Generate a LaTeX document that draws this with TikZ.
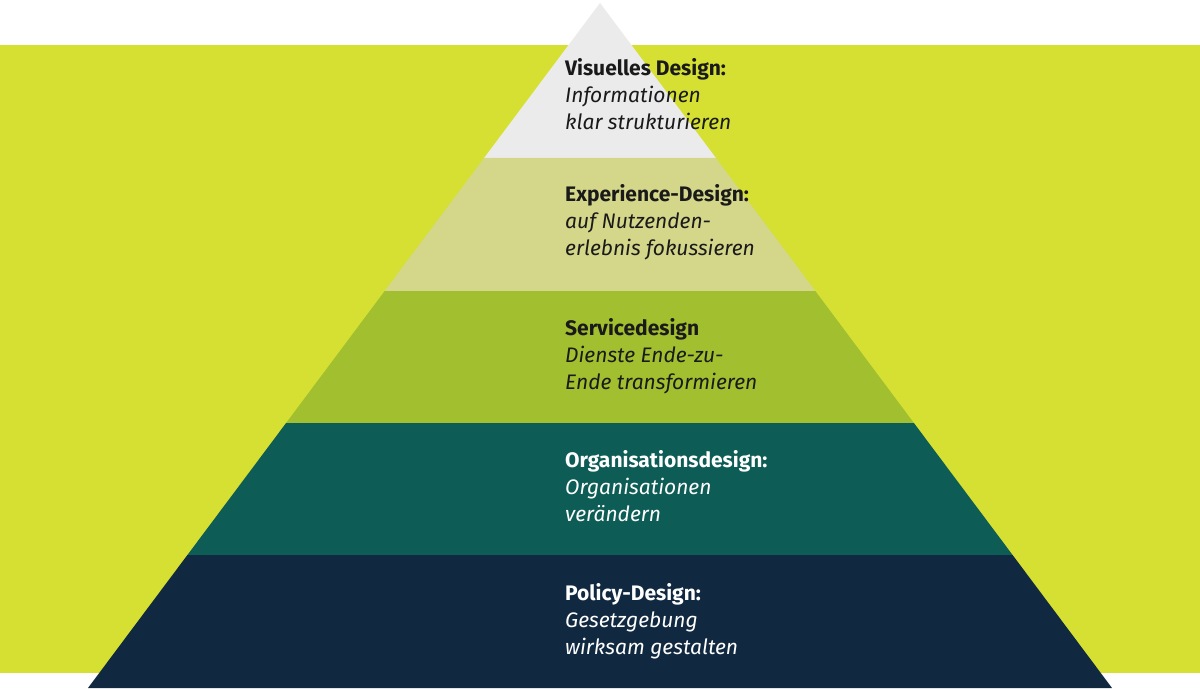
\documentclass[tikz,border=0pt]{standalone}
\usepackage{fontspec}
\setmainfont{Fira Sans}
\begin{document}
\begin{tikzpicture}[x=1pt,y=-1pt,
  lbl/.style={anchor=north west,align=left,font=\fontsize{21}{27}\selectfont,inner sep=0pt}]
\definecolor{bg}{HTML}{D5E032}
\definecolor{c1}{HTML}{EBEBEB}
\definecolor{c2}{HTML}{D4D68A}
\definecolor{c3}{HTML}{A1BF2F}
\definecolor{c4}{HTML}{0D5C55}
\definecolor{c5}{HTML}{102940}
\definecolor{dk}{HTML}{1A1A1A}
\useasboundingbox (0,0) rectangle (1200,690);
\fill[white] (0,0) rectangle (1200,690);
\fill[bg] (0,45) rectangle (1200,673);
\fill[c1] (600,3) -- (715.9,158) -- (484.1,158) -- cycle;
\fill[c2] (484.1,158) -- (715.9,158) -- (815.3,291) -- (384.7,291) -- cycle;
\fill[c3] (384.7,291) -- (815.3,291) -- (913.9,423) -- (286.1,423) -- cycle;
\fill[c4] (286.1,423) -- (913.9,423) -- (1012.6,555) -- (187.4,555) -- cycle;
\fill[c5] (187.4,555) -- (1012.6,555) -- (1112,688) -- (88,688) -- cycle;
\node[lbl,text=dk] (t1) at (565,58) {\textbf{Visuelles Design:}\\\textit{Informationen}\\\textit{klar strukturieren}};
\node[lbl,text=dk] (t2) at (565,184) {\textbf{Experience-Design:}\\\textit{auf Nutzenden-}\\\textit{erlebnis fokussieren}};
\node[lbl,text=dk] (t3) at (565,318) {\textbf{Servicedesign}\\\textit{Dienste Ende-zu-}\\\textit{Ende transformieren}};
\node[lbl,text=white] (t4) at (565,450) {\textbf{Organisationsdesign:}\\\textit{Organisationen}\\\textit{verändern}};
\node[lbl,text=white] (t5) at (565,583) {\textbf{Policy-Design:}\\\textit{Gesetzgebung}\\\textit{wirksam gestalten}};
\end{tikzpicture}
\end{document}
